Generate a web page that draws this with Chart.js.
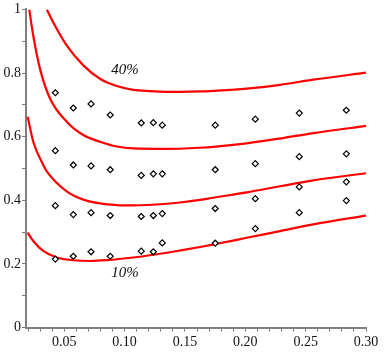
<!DOCTYPE html>
<html>
<head>
<meta charset="utf-8">
<script src="https://cdn.jsdelivr.net/npm/chart.js@4.4.0/dist/chart.umd.min.js"></script>
<style>
  html, body { margin: 0; padding: 0; background: #fff; }
  #wrap { width: 386px; height: 354px; }
</style>
</head>
<body>
<div id="wrap"><canvas id="chart" width="386" height="354"></canvas></div>
<script>
// measured sample points (x shared by all four rows)
const sampleX = [0.0426, 0.0575, 0.0722, 0.0881, 0.1138, 0.1238, 0.1312, 0.1751, 0.2083, 0.2447, 0.2837]
const rowA = [0.738, 0.690, 0.703, 0.668, 0.643, 0.644, 0.636, 0.636, 0.655, 0.674, 0.683]
const rowB = [0.556, 0.511, 0.508, 0.496, 0.478, 0.483, 0.483, 0.496, 0.515, 0.537, 0.546]
const rowC = [0.383, 0.355, 0.361, 0.352, 0.349, 0.352, 0.358, 0.374, 0.405, 0.442, 0.458]
const rowD = [0.215, 0.224, 0.238, 0.224, 0.240, 0.238, 0.266, 0.265, 0.311, 0.361, 0.399]

// red curves
const curve40X = [0.0355, 0.0409, 0.0520, 0.0658, 0.0796, 0.0935, 0.1072, 0.1210, 0.1349, 0.1459, 0.1625, 0.1735, 0.2012, 0.2287, 0.2563, 0.30]
const curve40Y = [1.0, 0.959, 0.887, 0.824, 0.782, 0.759, 0.747, 0.743, 0.741, 0.741, 0.742, 0.744, 0.751, 0.763, 0.779, 0.801]
const curve30X = [0.0210, 0.0243, 0.0299, 0.0382, 0.0520, 0.0658, 0.0796, 0.0935, 0.1072, 0.1349, 0.1459, 0.1625, 0.1735, 0.2012, 0.2287, 0.2563, 0.30]
const curve30Y = [1.0, 0.918, 0.813, 0.720, 0.647, 0.605, 0.584, 0.569, 0.563, 0.5615, 0.562, 0.565, 0.568, 0.579, 0.594, 0.611, 0.634]
const curve20X = [0.0197, 0.0243, 0.0326, 0.0355, 0.0520, 0.0658, 0.0796, 0.0935, 0.1072, 0.1349, 0.1459, 0.1625, 0.1735, 0.2012, 0.2287, 0.2563, 0.30]
const curve20Y = [0.6625, 0.584, 0.511, 0.491, 0.428, 0.402, 0.390, 0.385, 0.384, 0.389, 0.393, 0.401, 0.408, 0.425, 0.444, 0.4625, 0.485]
const curve10X = [0.0197, 0.0243, 0.0326, 0.0437, 0.0575, 0.0713, 0.0852, 0.1072, 0.1349, 0.1459, 0.1625, 0.1735, 0.2012, 0.2287, 0.2563, 0.30]
const curve10Y = [0.298, 0.272, 0.2406, 0.220, 0.2115, 0.209, 0.2115, 0.220, 0.235, 0.242, 0.253, 0.261, 0.282, 0.303, 0.324, 0.352]

// curve labels
const labelText = ["40%", "10%"]
const labelX = [0.1003, 0.1003]
const labelY = [0.809, 0.170]

// axis ticks
const xTicks = [0.02, 0.03, 0.04, 0.05, 0.06, 0.07, 0.08, 0.09, 0.10, 0.11, 0.12, 0.13, 0.14, 0.15,
  0.16, 0.17, 0.18, 0.19, 0.20, 0.21, 0.22, 0.23, 0.24, 0.25, 0.26, 0.27, 0.28, 0.29, 0.30]
const xMajor = [0.05, 0.10, 0.15, 0.20, 0.25, 0.30]
const yTicks = [0, 0.1, 0.2, 0.3, 0.4, 0.5, 0.6, 0.7, 0.8, 0.9, 1]
const yMajor = [0, 0.2, 0.4, 0.6, 0.8, 1]

const toPoints = (xs, ys) => xs.map((x, i) => ({ x: x, y: ys[i] }))
const isIn = (v, list) => list.some((m) => Math.abs(m - v) < 1e-6)

const pointStyle = {
  showLine: false,
  pointStyle: "rectRot",
  pointRadius: 3,
  pointBorderColor: "#000",
  pointBackgroundColor: "#fff",
  pointBorderWidth: 1.2,
}
const curveStyle = {
  showLine: true,
  pointRadius: 0,
  borderColor: "#ff0000",
  borderWidth: 2.2,
  cubicInterpolationMode: "monotone",
}

const curveLabels = {
  id: "curveLabels",
  afterDatasetsDraw(chart) {
    const c = chart.ctx
    const xs = chart.scales.x
    const ys = chart.scales.y
    c.save()
    c.font = "italic 15px 'Liberation Serif', 'DejaVu Serif', serif"
    c.fillStyle = "#111"
    c.textAlign = "center"
    c.textBaseline = "middle"
    labelText.forEach((t, i) => {
      c.fillText(t, xs.getPixelForValue(labelX[i]), ys.getPixelForValue(labelY[i]))
    })
    c.restore()
  },
}

const tickFont = { family: "'Liberation Serif', 'DejaVu Serif', serif", size: 14 }

new Chart(document.getElementById("chart"), {
  type: "scatter",
  data: {
    datasets: [
      Object.assign({ data: toPoints(sampleX, rowA) }, pointStyle),
      Object.assign({ data: toPoints(sampleX, rowB) }, pointStyle),
      Object.assign({ data: toPoints(sampleX, rowC) }, pointStyle),
      Object.assign({ data: toPoints(sampleX, rowD) }, pointStyle),
      Object.assign({ data: toPoints(curve40X, curve40Y) }, curveStyle),
      Object.assign({ data: toPoints(curve30X, curve30Y) }, curveStyle),
      Object.assign({ data: toPoints(curve20X, curve20Y) }, curveStyle),
      Object.assign({ data: toPoints(curve10X, curve10Y) }, curveStyle),
    ],
  },
  options: {
    responsive: false,
    animation: false,
    layout: { padding: { top: 7, right: 20, left: 0, bottom: 0 } },
    plugins: { legend: { display: false }, tooltip: { enabled: false } },
    scales: {
      x: {
        type: "linear",
        min: 0.0183,
        max: 0.30,
        afterBuildTicks: (s) => { s.ticks = xTicks.map((v) => ({ value: v })) },
        afterFit: (s) => { s.height = 26.5 },
        grid: { drawOnChartArea: false, color: "#777", tickLength: 4, lineWidth: 1 },
        border: { color: "#808080", width: 2 },
        ticks: {
          autoSkip: false,
          maxRotation: 0,
          padding: 2,
          color: "#111",
          font: tickFont,
          callback: (v) => (isIn(v, xMajor) ? v.toFixed(2) : ""),
        },
      },
      y: {
        type: "linear",
        min: 0,
        max: 1,
        afterBuildTicks: (s) => { s.ticks = yTicks.map((v) => ({ value: v })) },
        afterFit: (s) => { s.width = 26 },
        grid: { drawOnChartArea: false, color: "#777", tickLength: 4, lineWidth: 1 },
        border: { color: "#808080", width: 2 },
        ticks: {
          autoSkip: false,
          padding: 1,
          color: "#111",
          font: tickFont,
          callback: (v) => (isIn(v, yMajor) ? (v === 0 || v === 1 ? String(v) : v.toFixed(1)) : ""),
        },
      },
    },
  },
  plugins: [curveLabels],
})
</script>
</body>
</html>
